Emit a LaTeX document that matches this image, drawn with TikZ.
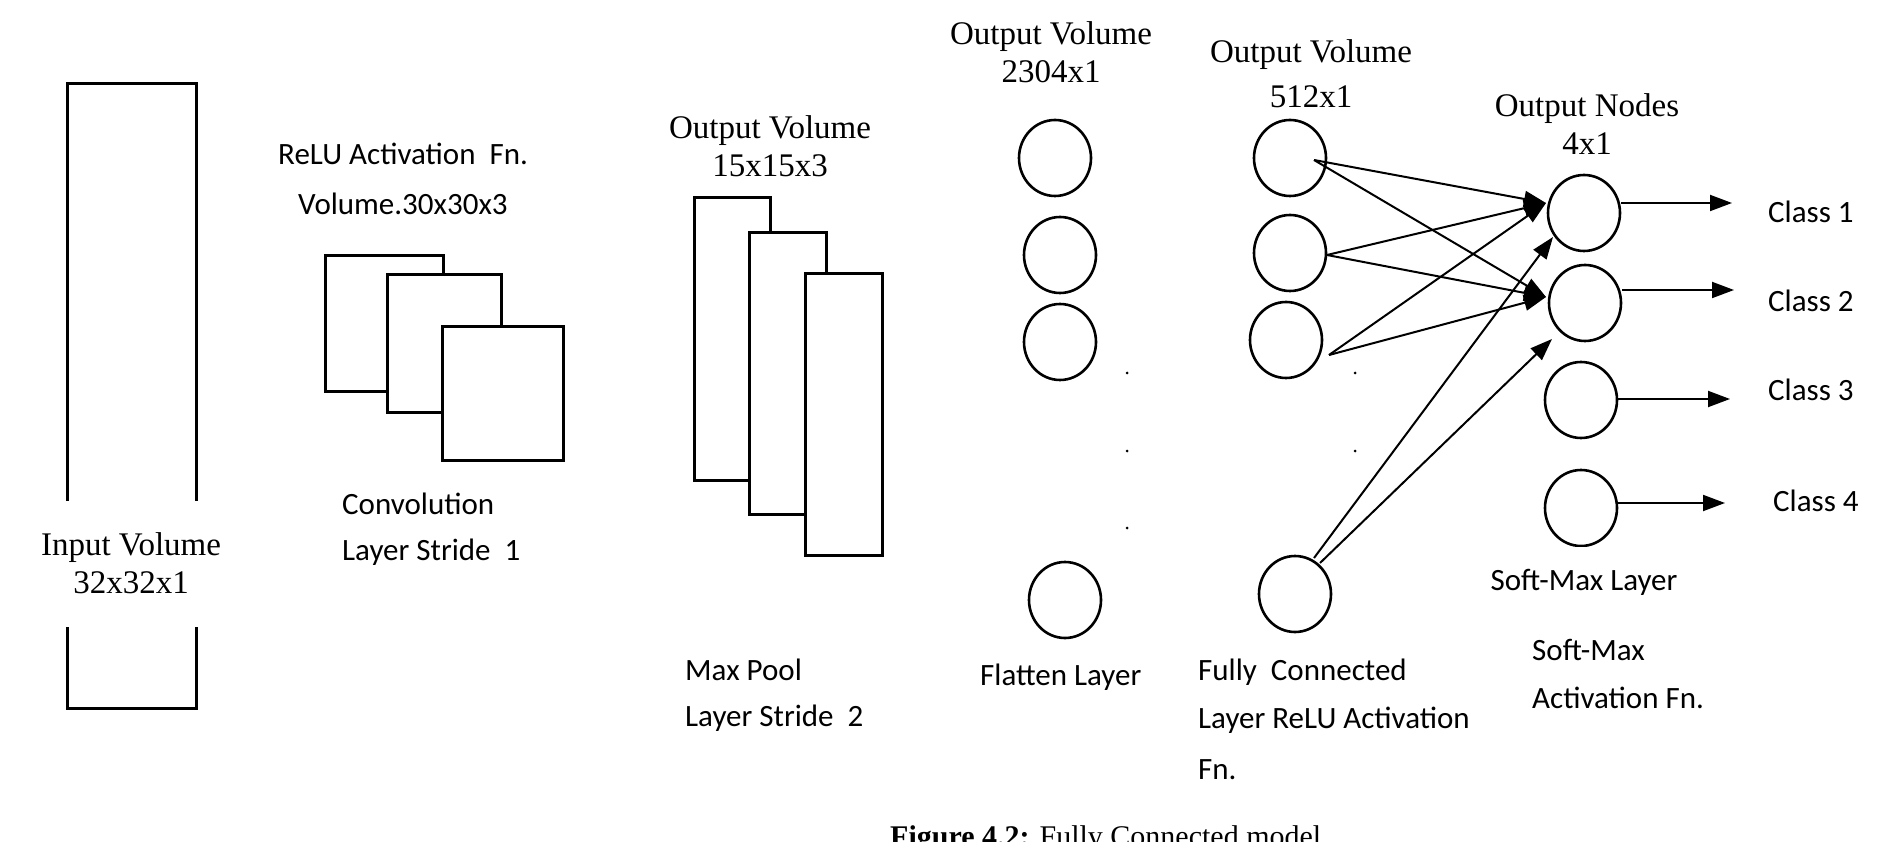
\documentclass[tikz,border=0pt]{standalone}
\usepackage{fontspec}
\setmainfont{Liberation Serif}
\newfontfamily\calib{Carlito}
\usetikzlibrary{arrows.meta,shapes.geometric,calc}
\begin{document}
\begin{tikzpicture}[x=1pt,y=-1pt,
  serif/.style={font=\fontsize{33}{38}\selectfont, inner sep=0pt, align=center},
  sans/.style={font=\calib\fontsize{31}{48}\selectfont, inner sep=0pt, align=left, anchor=west},
  box/.style={draw, line width=3pt, fill=white},
  neuron/.style={draw, ellipse, line width=2.6pt, minimum width=72pt, minimum height=76pt, inner sep=0pt},
  wire/.style={line width=2pt, -{Triangle[length=22pt,width=16pt]}},
  dotm/.style={circle, fill=black, inner sep=0pt, minimum size=3pt}]
\useasboundingbox (0,0) rectangle (1899,842);
% input volume
\coordinate (iTL) at (67,84); \coordinate (iTR) at (196,84);
\coordinate (iML) at (67,501); \coordinate (iMR) at (196,501);
\coordinate (iNL) at (67,627); \coordinate (iNR) at (196,627);
\coordinate (iBL) at (67,708); \coordinate (iBR) at (196,708);
\draw[line width=3pt] (iML) -- (iTL) -- (iTR) -- (iMR);
\draw[line width=3pt] (iNL) -- (iBL) -- (iBR) -- (iNR);
\node[serif] (inlab) at (131,563) {Input Volume\\32x32x1};
% convolution
\node[sans] (reluA) at (278,154) {ReLU Activation\ \ Fn.};
\node[sans] (reluB) at (298,204) {Volume.30x30x3};
\draw[box] (325,256) rectangle (443,391);
\draw[box] (387,275) rectangle (501,412);
\draw[box] (442,327) rectangle (563,460);
\node[sans] (convA) at (342,504) {Convolution};
\node[sans] (convB) at (342,552) {Layer Stride\ \ 1};
% pooling
\node[serif] (poolh) at (770,146) {Output Volume\\15x15x3};
\draw[box] (694,198) rectangle (770,480);
\draw[box] (749,233) rectangle (826,514);
\draw[box] (805,274) rectangle (882,555);
\node[sans] (poolA) at (685,670) {Max Pool};
\node[sans] (poolB) at (685,718) {Layer Stride\ \ 2};
% flatten
\node[neuron] (f1) at (1055,158) {};
\node[neuron] (f2) at (1060,255) {};
\node[neuron] (f3) at (1060,342) {};
\node[neuron] (f4) at (1065,600) {};
\node[serif] (flh) at (1051,52) {Output Volume\\2304x1};
\node[dotm] (fd1) at (1127,373) {};
\node[dotm] (fd2) at (1127,451) {};
\node[dotm] (fd3) at (1127,528) {};
\node[sans] (flab) at (980,677) {Flatten Layer};
% fully connected
\node[neuron] (h1) at (1290,158) {};
\node[neuron] (h2) at (1290,253) {};
\node[neuron] (h3) at (1286,340) {};
\node[neuron] (h4) at (1295,594) {};
\node[serif] (fch) at (1311,55) {Output Volume};
\node[serif, fill=white, inner ysep=3pt] (fch2) at (1311,97) {512x1};
\node[dotm] (hd1) at (1355,373) {};
\node[dotm] (hd2) at (1355,451) {};
\node[sans] (fcA) at (1198,672) {Fully\ \ Connected};
\node[sans] (fcB) at (1198,720) {Layer ReLU Activation};
\node[sans] (fcC) at (1198,770) {Fn.};
% output
\node[neuron] (o1) at (1584,213) {};
\node[neuron] (o2) at (1585,303) {};
\node[neuron] (o3) at (1581,400) {};
\node[neuron] (o4) at (1581,508) {};
\fill[white] (1530,547) rectangle (1640,560);
\node[serif] (outh) at (1587,124) {Output Nodes\\4x1};
\node[sans, anchor=center] (smA) at (1584,582) {Soft-Max Layer};
\node[sans] (smB) at (1532,650) {Soft-Max};
\node[sans] (smC) at (1532,698) {Activation Fn.};
% connectors
\coordinate (s1) at ($(h1.center)+(24,2)$);
\coordinate (s2) at ($(h2.center)+(37,2)$);
\coordinate (s3) at ($(h3.center)+(43,15)$);
\coordinate (s4a) at ($(h4.center)+(19,-36)$);
\coordinate (s4b) at ($(h4.center)+(25,-31)$);
\coordinate (t1) at ($(o1.center)+(-38,-10)$);
\coordinate (t2) at ($(o2.center)+(-39,-6)$);
\coordinate (t1b) at ($(o1.center)+(-31,24)$);
\coordinate (t2b) at ($(o2.center)+(-33,36)$);
\foreach \s in {s1,s2,s3}{
  \draw[wire] (\s) -- (t1);
  \draw[wire] (\s) -- (t2);
}
\draw[wire] (s4a) -- (t1b);
\draw[wire] (s4b) -- (t2b);
\node[sans] (c1) at (1768,212) {Class 1};
\node[sans] (c2) at (1768,301) {Class 2};
\node[sans] (c3) at (1768,390) {Class 3};
\node[sans] (c4) at (1773,501) {Class 4};
\draw[wire] (o1.east |- 0,203) -- (1732,203);
\draw[wire] (o2.east |- 0,290) -- (1734,290);
\draw[wire] (o3.east |- 0,399) -- (1730,399);
\draw[wire] (o4.east |- 0,503) -- (1725,503);
% caption
\node[font=\fontsize{30}{34}\selectfont, anchor=base west, inner sep=0pt] (cap) at (890,846) {\textbf{Figure 4.2:} Fully Connected model};
\end{tikzpicture}
\end{document}
